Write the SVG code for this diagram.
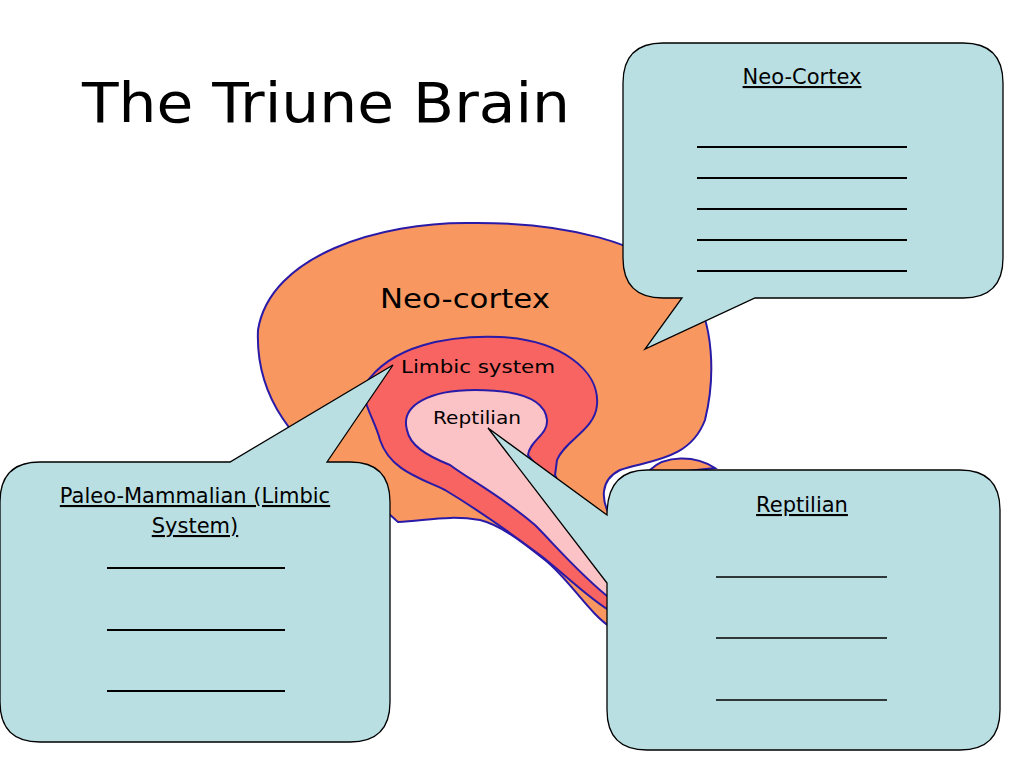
<svg xmlns="http://www.w3.org/2000/svg" width="1024" height="768" viewBox="0 0 1024 768">
<style>
.c{fill:#b9dfe3;stroke:#000;stroke-width:1.3}
.t{font-family:"DejaVu Sans",sans-serif;fill:#000}
.b{stroke:#2a1aa8;stroke-width:2}
.l{stroke:#000;stroke-width:2}
</style>
<rect width="1024" height="768" fill="#fff"/>
<text class="t" x="82" y="122" font-size="56" textLength="488" lengthAdjust="spacingAndGlyphs">The Triune Brain</text>
<g id="brain">
<path class="b" fill="#f8975f" d="M258,330 C270,255 380,222 470,223 C560,222 650,240 690,290 C715,320 715,380 705,420 C690,460 650,460 620,470 C600,480 600,500 612,520 L612,628 C590,615 570,580 545,560 C520,540 500,525 480,520 C450,515 430,520 398,522 L340,470 C300,450 255,400 258,330 Z"/>
<path class="b" fill="#f8975f" d="M650,470 C665,455 695,455 715,468 L650,475 Z"/>
<path class="b" fill="#f86462" d="M365,385 C390,345 450,335 500,337 C560,340 600,370 597,405 C595,430 565,440 557,460 L555,475 C575,520 600,560 612,600 L612,612 C590,600 560,570 540,555 C500,525 470,505 445,490 C420,478 390,470 380,440 C375,420 360,400 365,385 Z"/>
<path class="b" fill="#fbc3c6" d="M407,430 C400,405 430,390 475,390 C520,390 545,400 547,420 C548,435 530,440 528,455 L540,470 C565,510 590,550 612,590 L612,600 C580,575 555,545 535,525 C500,495 470,480 450,465 C425,455 410,445 407,430 Z"/>
<text class="t" x="380" y="308" font-size="26" textLength="170" lengthAdjust="spacingAndGlyphs">Neo-cortex</text>
<text class="t" x="401" y="373" font-size="18" textLength="154" lengthAdjust="spacingAndGlyphs">Limbic system</text>
<text class="t" x="433" y="424" font-size="17" fill="#333" textLength="88" lengthAdjust="spacingAndGlyphs">Reptilian</text>
</g>
<g id="neo">
<path class="c" d="M663,43 L963,43 Q1003,43 1003,83 L1003,258 Q1003,298 963,298 L755,298 L645,349 L682,298 L663,298 Q623,298 623,258 L623,83 Q623,43 663,43 Z"/>
<text class="t" x="802" y="84" font-size="21" text-anchor="middle" text-decoration="underline">Neo-Cortex</text>
<g class="l"><line x1="697" y1="147" x2="907" y2="147"/><line x1="697" y1="178" x2="907" y2="178"/><line x1="697" y1="209" x2="907" y2="209"/><line x1="697" y1="240" x2="907" y2="240"/><line x1="697" y1="271" x2="907" y2="271"/></g>
</g>
<g id="limbic">
<path class="c" d="M40,462 L230,462 L393,365 L327,462 L350,462 Q390,462 390,502 L390,702 Q390,742 350,742 L40,742 Q0,742 0,702 L0,502 Q0,462 40,462 Z"/>
<text class="t" x="195" y="503" font-size="21" text-anchor="middle" text-decoration="underline">Paleo-Mammalian  (Limbic</text>
<text class="t" x="195" y="533" font-size="21" text-anchor="middle" text-decoration="underline">System)</text>
<g class="l"><line x1="107" y1="568" x2="285" y2="568"/><line x1="107" y1="630" x2="285" y2="630"/><line x1="107" y1="691" x2="285" y2="691"/></g>
</g>
<g id="rept">
<path class="c" d="M647,470 L960,470 Q1000,470 1000,510 L1000,710 Q1000,750 960,750 L647,750 Q607,750 607,710 L607,583 L488,428 L607,515 Q607,470 647,470 Z"/>
<text class="t" x="802" y="512" font-size="21" text-anchor="middle" text-decoration="underline">Reptilian</text>
<g class="l" style="stroke-width:1.3"><line x1="716" y1="577" x2="887" y2="577"/><line x1="716" y1="638" x2="887" y2="638"/><line x1="716" y1="700" x2="887" y2="700"/></g>
</g>
</svg>
